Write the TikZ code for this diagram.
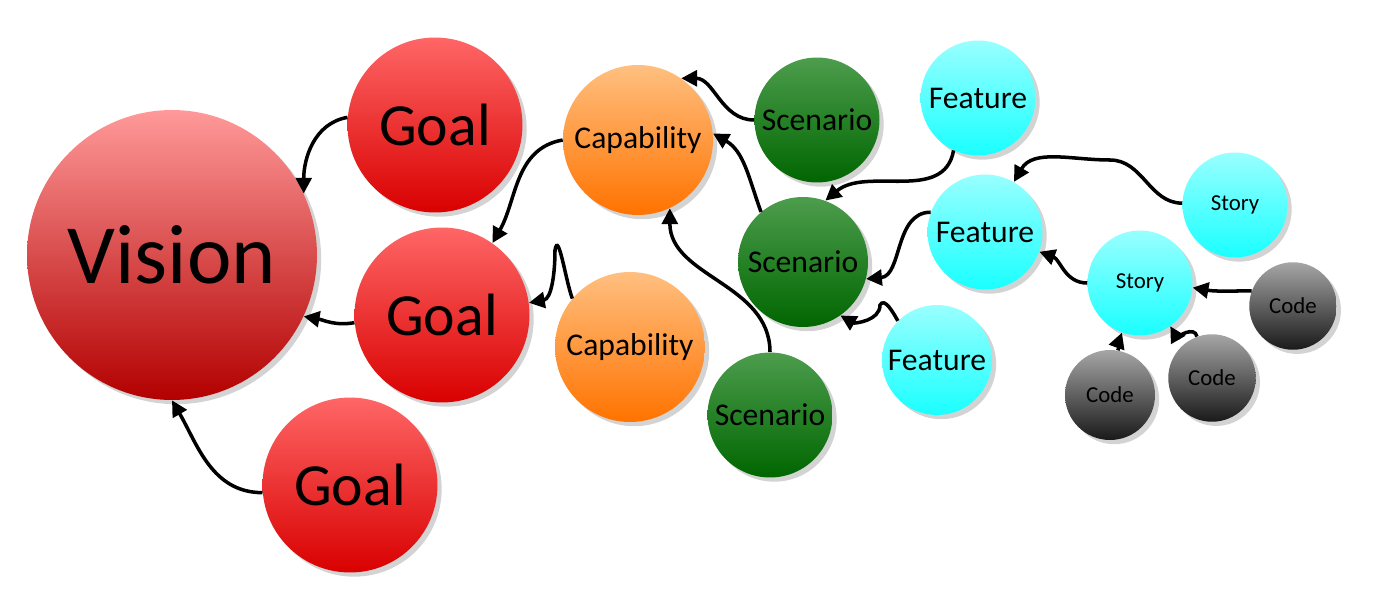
\documentclass[tikz,border=0pt]{standalone}
\usepackage{fontspec}
\setmainfont{Carlito}
\usetikzlibrary{arrows.meta,shadows}
\tikzset{
  bub/.style={circle, inner sep=0pt, draw=none, drop shadow={opacity=.35}},
  red/.style={bub, top color=red!60!white, bottom color=red!85!black},
  ora/.style={bub, top color=orange!50!white, bottom color=orange!90!red},
  grn/.style={bub, top color=green!45!black!70!white, bottom color=green!40!black},
  cya/.style={bub, top color=cyan!40!white, bottom color=cyan!90!white},
  gry/.style={bub, top color=black!35, bottom color=black!90},
  link/.style={line width=2pt, -{Triangle[length=9pt,width=9pt]}}
}
\begin{document}
\begin{tikzpicture}[x=0.02cm, y=-0.02cm]
  \useasboundingbox (0,0) rectangle (1375,605);
  % bubbles
  \node[bub, top color=red!40!white, bottom color=red!70!black, minimum size=5.8cm, font=\fontsize{48}{50}\selectfont] (vis) at (172,255) {Vision};
  \node[red, minimum size=3.5cm, font=\fontsize{34}{36}\selectfont] (g1) at (435,125) {Goal};
  \node[red, minimum size=3.5cm, font=\fontsize{34}{36}\selectfont] (g2) at (442,315) {Goal};
  \node[red, minimum size=3.5cm, font=\fontsize{34}{36}\selectfont] (g3) at (350,485) {Goal};
  \node[ora, minimum size=3cm, font=\fontsize{18}{20}\selectfont] (c1) at (638,140) {Capability};
  \node[ora, minimum size=3cm, font=\fontsize{18}{20}\selectfont] (c2) at (630,347) {Capability};
  \node[grn, minimum size=2.5cm, font=\fontsize{18}{20}\selectfont] (s1) at (817,120) {Scenario};
  \node[grn, minimum size=2.6cm, font=\fontsize{18}{20}\selectfont] (s2) at (803,262) {Scenario};
  \node[grn, minimum size=2.5cm, font=\fontsize{18}{20}\selectfont] (s3) at (770,415) {Scenario};
  \node[cya, minimum size=2.3cm, font=\fontsize{18}{20}\selectfont] (f1) at (978,98) {Feature};
  \node[cya, minimum size=2.3cm, font=\fontsize{18}{20}\selectfont] (f2) at (985,232) {Feature};
  \node[cya, minimum size=2.2cm, font=\fontsize{18}{20}\selectfont] (f3) at (937,360) {Feature};
  \node[cya, minimum size=2.1cm, font=\fontsize{13}{15}\selectfont] (t1) at (1235,205) {Story};
  \node[cya, minimum size=2.1cm, font=\fontsize{13}{15}\selectfont] (t2) at (1140,283) {Story};
  \node[gry, minimum size=1.75cm, font=\fontsize{13}{15}\selectfont] (k1) at (1293,306) {Code};
  \node[gry, minimum size=1.8cm, font=\fontsize{13}{15}\selectfont] (k2) at (1110,395) {Code};
  \node[gry, minimum size=1.75cm, font=\fontsize{13}{15}\selectfont] (k3) at (1212,378) {Code};
  % links
  \draw[link] (g1.175) to[out=190, in=90] (vis.25);
  \draw[link] (g2.185) to[out=190, in=-10] (vis.-25);
  \draw[link] (g3.185) to[out=180, in=-60] (vis.-90);
  \draw[link] (c1.180) to[out=190, in=60] (g2.55);
  \draw[link] (c2.140) to[out=110, in=80] (555,250) to[out=-90, in=10] (g2.8);
  \draw[link] (s1.180) to[out=180, in=0] (c1.55);
  \draw[link] (s2.130) to[out=110, in=-30] (c1.5);
  \draw[link] (s3.90) to[out=90, in=-90] (c1.-65);
  \draw[link] (f1.-115) to[out=-100, in=40] (s2.70);
  \draw[link] (f2.160) to[out=180, in=5] (s2.-15);
  \draw[link] (f3.135) to[out=120, in=60] (880,305) to[out=-90, in=-30] (s2.-55);
  \draw[link] (t1.178) to[out=180, in=0] (1110,160) to[out=180, in=60] (f2.60);
  \draw[link] (t2.180) to[out=180, in=-20] (f2.-20);
  \draw[link] (k1.160) to[out=180, in=-10] (t2.-5);
  \draw[link] (k2.80) to[out=70, in=-110] (t2.-110);
  \draw[link] (k3.110) to[out=100, in=-60] (t2.-55);
\end{tikzpicture}
\end{document}
